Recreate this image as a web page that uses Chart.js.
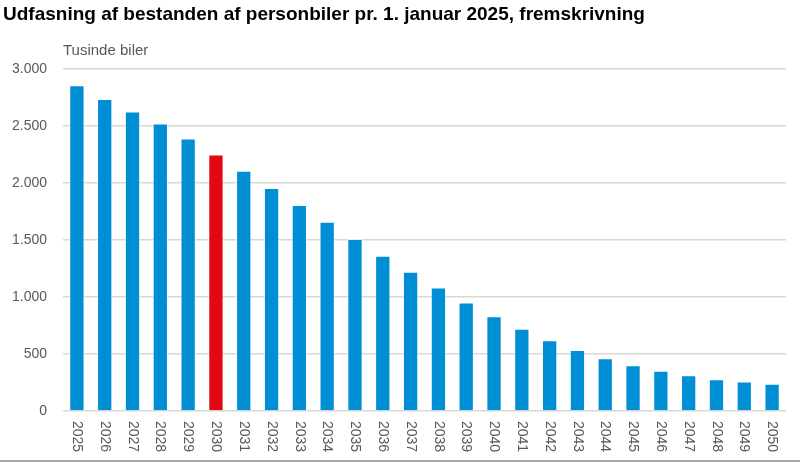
<!DOCTYPE html>
<html>
<head>
<meta charset="utf-8">
<script src="https://cdn.jsdelivr.net/npm/chart.js@4/dist/chart.umd.min.js"></script>
<style>
  html, body { margin: 0; padding: 0; background: #fff; }
  #wrap { position: relative; width: 800px; height: 464px; }
</style>
</head>
<body>
<div id="wrap"><canvas id="chart"></canvas></div>
<script>
// Udfasning af personbiler (tusinde biler)
const TITLE = 'Udfasning af bestanden af personbiler pr. 1. januar 2025, fremskrivning';
const UNIT_LABEL = 'Tusinde biler';

const years = ['2025', '2026', '2027', '2028', '2029', '2030', '2031', '2032', '2033',
  '2034', '2035', '2036', '2037', '2038', '2039', '2040', '2041', '2042', '2043',
  '2044', '2045', '2046', '2047', '2048', '2049', '2050'];

const cars = [2857, 2736, 2628, 2523, 2391, 2250, 2107, 1957, 1808,
  1659, 1509, 1362, 1222, 1084, 952, 832, 721, 621, 534,
  463, 402, 352, 314, 278, 258, 240];

const highlightYear = '2030';

const yTicks = [0, 500, 1000, 1500, 2000, 2500, 3000];

const BLUE = '#008fd5';
const RED = '#e30613';
const GRID = '#d9d9d4';
const TEXT_GREY = '#595953';

// Title, unit label, rotated year labels and bottom rule
const decorations = {
  id: 'decorations',
  afterDraw(chart) {
    const ctx = chart.ctx;
    const xScale = chart.scales.x;
    ctx.save();

    ctx.fillStyle = '#000';
    ctx.font = 'bold 19px "Liberation Sans", Arial, sans-serif';
    ctx.textAlign = 'left';
    ctx.textBaseline = 'alphabetic';
    ctx.fillText(TITLE, 3, 20);

    ctx.fillStyle = TEXT_GREY;
    ctx.font = '15px "Liberation Sans", Arial, sans-serif';
    ctx.fillText(UNIT_LABEL, 63, 55);

    // year labels, rotated clockwise
    ctx.font = '14px "Liberation Sans", Arial, sans-serif';
    ctx.textBaseline = 'middle';
    years.forEach((y, i) => {
      const x = xScale.getPixelForValue(i);
      ctx.save();
      ctx.translate(x, chart.chartArea.bottom + 10);
      ctx.rotate(Math.PI / 2);
      ctx.fillText(y, 0, 0);
      ctx.restore();
    });

    // frame line at the bottom
    ctx.strokeStyle = '#a3abb2';
    ctx.lineWidth = 2;
    ctx.beginPath();
    ctx.moveTo(0, 461);
    ctx.lineTo(800, 461);
    ctx.stroke();

    ctx.restore();
  }
};

const ctx = document.getElementById('chart').getContext('2d');
new Chart(ctx, {
  type: 'bar',
  data: {
    labels: years,
    datasets: [{
      data: cars,
      backgroundColor: years.map(y => y === highlightYear ? RED : BLUE),
      borderColor: 'rgba(255, 255, 255, 0.5)',
      borderWidth: 1,
      barPercentage: 0.55,
      categoryPercentage: 1
    }]
  },
  options: {
    responsive: true,
    maintainAspectRatio: false,
    animation: false,
    layout: {
      padding: { top: 69, right: 14, bottom: 45, left: 0 }
    },
    plugins: {
      legend: { display: false },
      tooltip: { enabled: false },
      title: { display: false }
    },
    scales: {
      x: {
        grid: { display: false },
        border: { display: false },
        ticks: { display: false }
      },
      y: {
        min: 0,
        max: 3000,
        afterFit(scale) { scale.width = 63; },
        afterBuildTicks(scale) {
          scale.ticks = yTicks.map(v => ({ value: v }));
        },
        grid: {
          color: GRID,
          lineWidth: 1.5,
          drawTicks: false
        },
        border: { display: false },
        ticks: {
          padding: 16,
          color: TEXT_GREY,
          font: { family: '"Liberation Sans", Arial, sans-serif', size: 14 },
          callback: v => v.toLocaleString('da-DK')
        }
      }
    }
  },
  plugins: [decorations]
});
</script>
</body>
</html>
